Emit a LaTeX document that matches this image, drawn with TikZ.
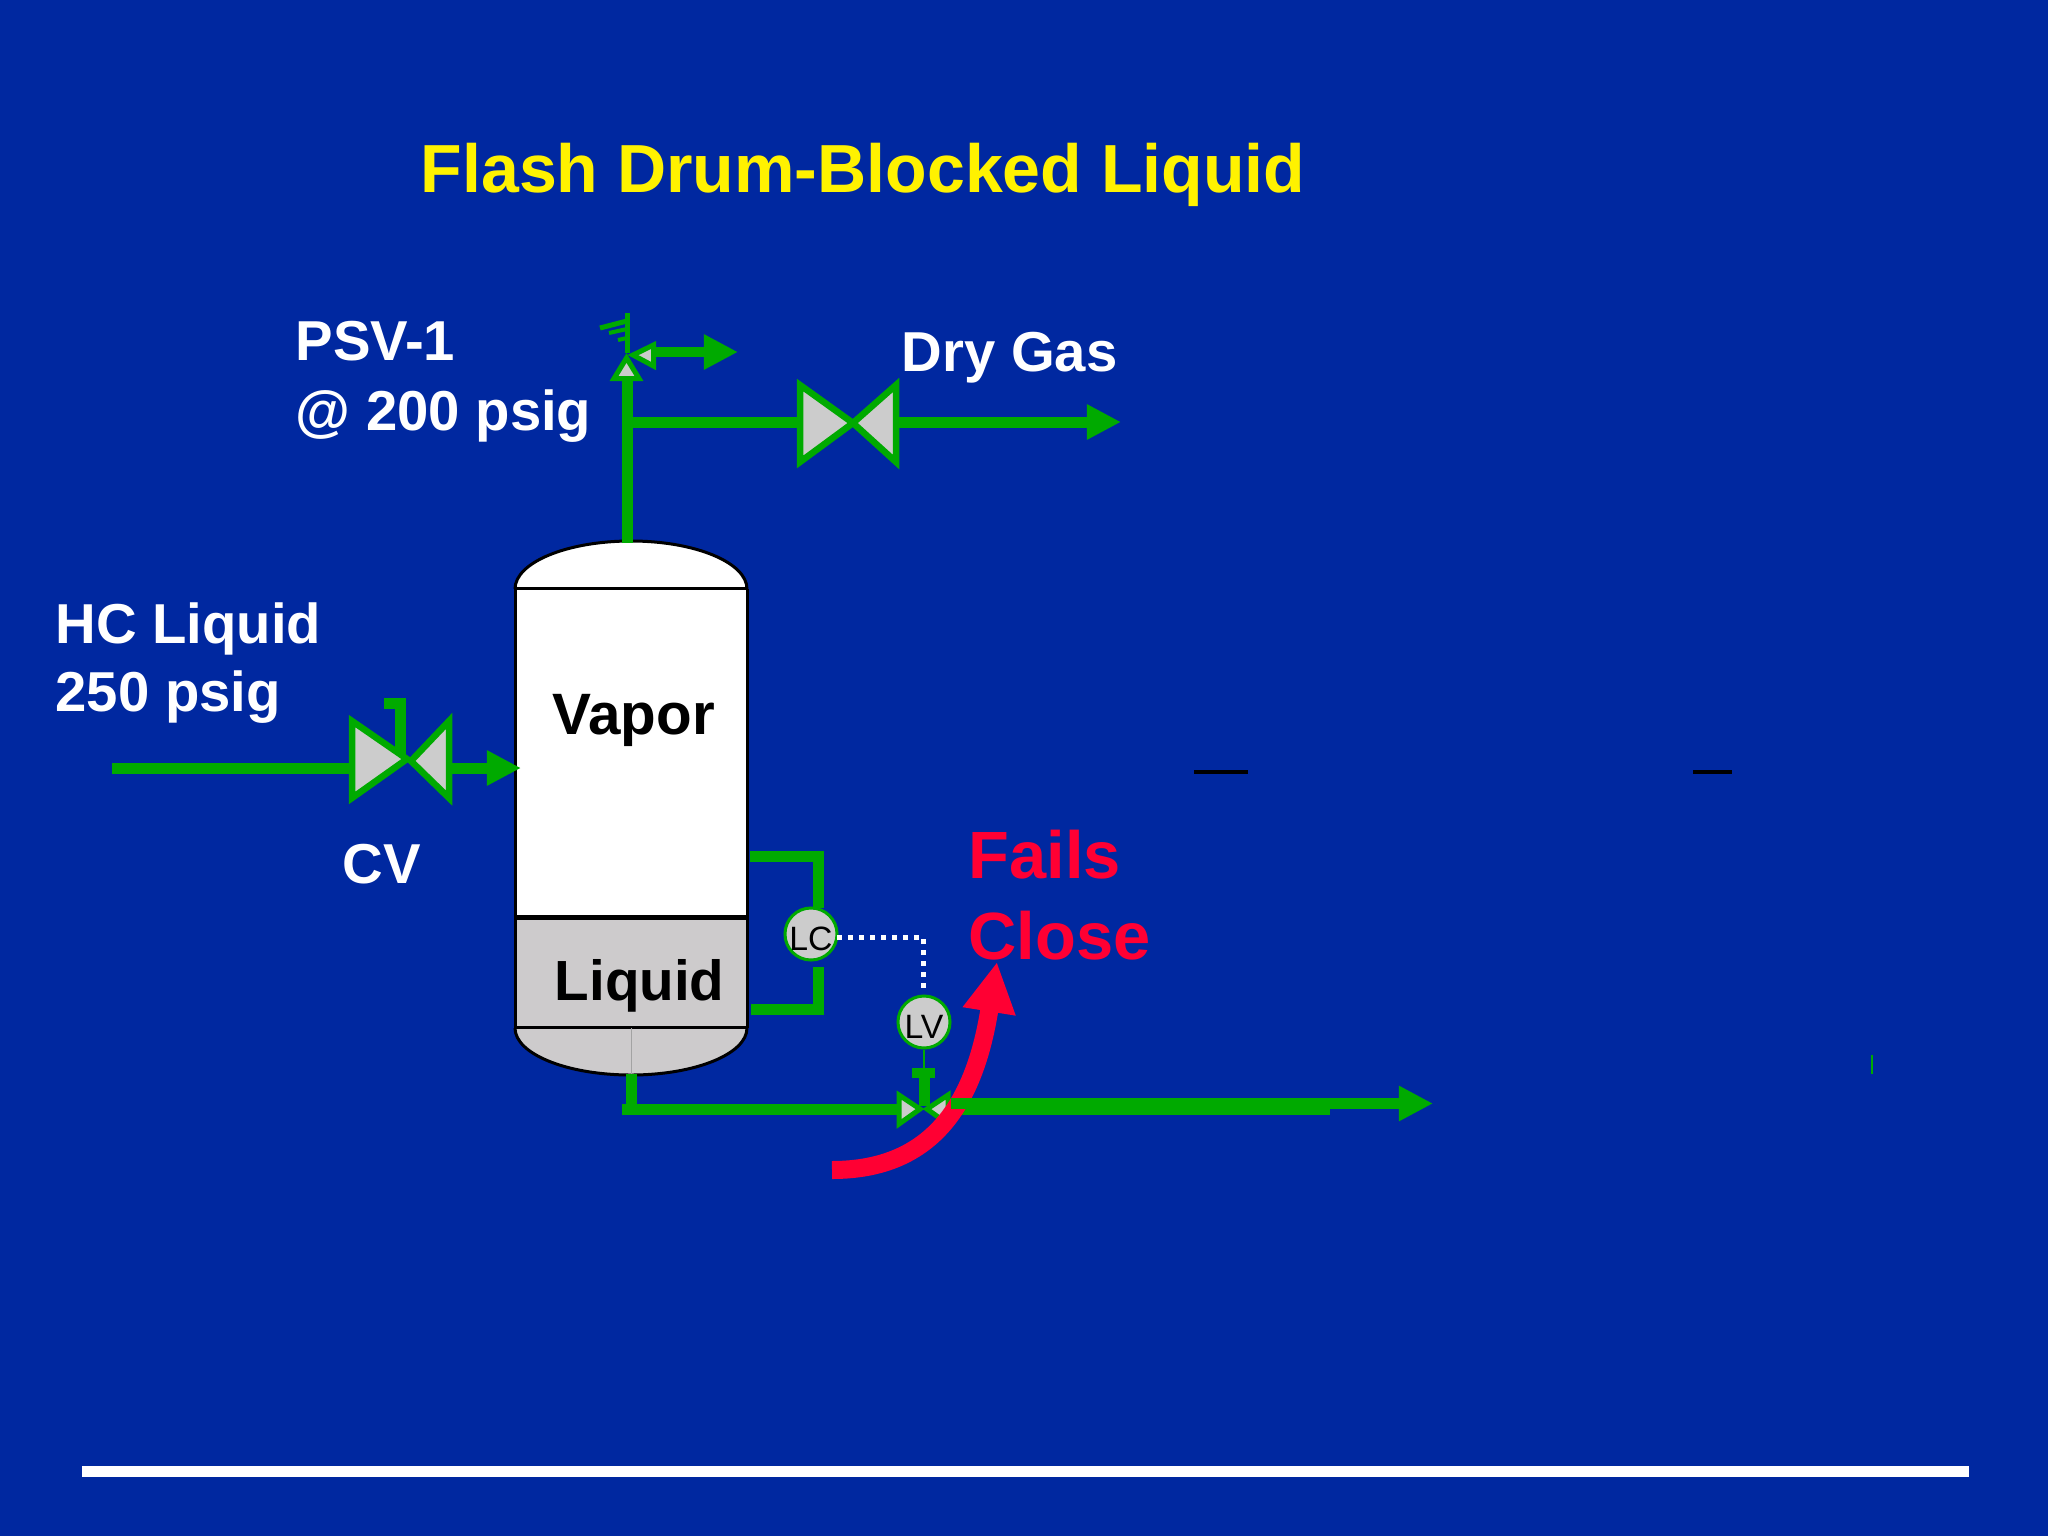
\documentclass[tikz,border=0pt]{standalone}
\usepackage{fontspec}
\setmainfont{Liberation Sans}
\usetikzlibrary{arrows.meta}
\definecolor{slideblue}{RGB}{0,40,160}
\definecolor{pipegreen}{RGB}{0,170,0}
\definecolor{failred}{RGB}{255,0,51}
\definecolor{valvegray}{RGB}{204,204,204}
\definecolor{drumgray}{RGB}{205,203,204}
\newcommand{\insttxt}[1]{\raisebox{-.16cm}[0pt][0pt]{#1}}
\tikzset{
  pipe/.style={draw=pipegreen, line width=.11cm},
  flow/.style={pipe, -{Triangle[length=.34cm,width=.33cm]}},
  valve/.style={draw=pipegreen, fill=valvegray, line width=.065cm, line join=miter},
  inst/.style={circle, draw=pipegreen, fill=valvegray, line width=.03cm, minimum size=.52cm, inner sep=0pt, font=\fontsize{9.6}{11}\selectfont},
  whitetxt/.style={anchor=base west, inner sep=0pt, align=left, text=white, font=\fontsize{16}{19.9}\selectfont\bfseries},
  drumtxt/.style={anchor=base west, inner sep=0pt, text=black},
  failtxt/.style={anchor=base west, inner sep=0pt, align=left, text=failred, font=\fontsize{19}{23}\selectfont\bfseries}
}
\begin{document}
\begin{tikzpicture}[x=.01cm,y=-.01cm]
\fill[slideblue] (0,0) rectangle (2048,1536);
\useasboundingbox (0,0) rectangle (2048,1536);
\fill[white] (82,1466) rectangle (1969,1477);
\node[anchor=base west, inner sep=0pt, text=yellow, font=\fontsize{19.35}{24}\selectfont\bfseries] (title) at (420,192) {Flash Drum-Blocked Liquid};
% drum
\coordinate (drumtop) at (627.5,543);
\coordinate (drumbot) at (631.5,1074);
\fill[white] (515,589) arc[start angle=180,end angle=360,x radius=116,y radius=48] -- (747,917) -- (515,917) -- cycle;
\fill[drumgray] (515,917) rectangle (747,1028);
\fill[drumgray] (515,1028) arc[start angle=180,end angle=0,x radius=116,y radius=47] -- cycle;
\draw[line width=.03cm] (515,589) arc[start angle=180,end angle=360,x radius=116,y radius=48];
\draw[line width=.03cm] (515,1028) arc[start angle=180,end angle=0,x radius=116,y radius=47];
\draw[line width=.03cm] (515,589) -- (515,1028);
\draw[line width=.03cm] (747,589) -- (747,1028);
\draw[line width=.025cm] (515,588.5) -- (747,588.5);
\draw[line width=.025cm] (515,1027.5) -- (747,1027.5);
\draw[line width=.05cm] (515,917) -- (747,917);
\draw[draw=valvegray!80!black, line width=.01cm] (631,1028) -- (631,1074);
\node[drumtxt, font=\fontsize{16.6}{19.9}\selectfont\bfseries] (vapor) at (552,734) {Vapor};
\node[drumtxt, font=\fontsize{16.1}{19.9}\selectfont\bfseries] (liquid) at (554,1000) {Liquid};
% feed
\coordinate (feed) at (112,768);
\coordinate (cvin) at (352,768);
\coordinate (cvout) at (449,768);
\coordinate (drumin) at (521,768);
\draw[pipe] (feed) -- (cvin);
\draw[flow] (cvout) -- (drumin);
\draw[pipe] (400,760) -- (400,703.5) -- (384,703.5);
\draw[valve] (352,721) -- (352,798) -- (407,759) -- cycle;
\draw[valve] (449,721) -- (449,798) -- (411,761) -- cycle;
% top
\coordinate (psvbase) at (627.5,381);
\coordinate (tee) at (627.5,422);
\coordinate (gasin) at (800,422);
\coordinate (gasout) at (896,422);
\coordinate (gasend) at (1121,422);
\draw[pipe] (drumtop) -- (psvbase);
\draw[pipe] (tee) -- (gasin);
\draw[flow] (gasout) -- (gasend);
\draw[valve] (800,385) -- (800,462) -- (853,423) -- cycle;
\draw[valve] (896,385) -- (896,462) -- (853,423) -- cycle;
% relief valve
\coordinate (psvout) at (653,352);
\coordinate (psvend) at (738,352);
\draw[flow, line width=.1cm] (psvout) -- (psvend);
\draw[draw=pipegreen, line width=.05cm] (627,313) -- (627,353);
\draw[draw=pipegreen, line width=.05cm] (600,328) -- (627,321);
\draw[draw=pipegreen, line width=.04cm] (609,333) -- (627,329);
\draw[draw=pipegreen, line width=.04cm] (618,340) -- (627,338);
\draw[valve, line width=.05cm] (614,378.5) -- (639,378.5) -- (626.5,358) -- cycle;
\draw[valve, line width=.05cm] (653.5,345) -- (653.5,366) -- (633,355) -- cycle;
% level loop
\node[inst] (LC) at (811,934) {\insttxt{LC}};
\node[inst] (LV) at (924,1022) {\insttxt{LV}};
\coordinate (tapup) at (750,856);
\coordinate (tapupc) at (818,856);
\coordinate (lcup) at (818,908);
\coordinate (taplo) at (751,1009);
\coordinate (taploc) at (818,1009);
\coordinate (lclo) at (818,967);
\draw[pipe, line join=miter] (tapup) -- (tapupc) -- (lcup);
\draw[pipe, line join=miter] (taplo) -- (taploc) -- (lclo);
\coordinate (sigout) at (837,937);
\coordinate (sigbend) at (923,937);
\coordinate (sigin) at (923,993);
\draw[white, line width=.05cm, dash pattern=on .05cm off .06cm] (sigout) -- (sigbend) -- (sigin);
% bottom
\coordinate (lvin) at (899,1109.5);
\coordinate (lvout) at (948,1109.5);
\coordinate (thickend) at (1330,1109.5);
\draw[pipe] (drumbot) -- (631.5,1109.5) -- (622,1109.5);
\draw[pipe] (622,1109.5) -- (lvin);
\draw[pipe] (lvout) -- (thickend);
\draw[draw=pipegreen, line width=.02cm] (LV.south) -- (924,1068);
\draw[draw=pipegreen, line width=.11cm] (924,1078) -- (924,1106);
\fill[pipegreen] (912,1068) rectangle (935,1078);
\draw[valve, line width=.05cm] (899,1095) -- (899,1124) -- (920,1109) -- cycle;
\draw[valve, line width=.05cm] (948,1095) -- (948,1124) -- (927,1109) -- cycle;
% red arrow
\draw[draw=failred, line width=.18cm, -{Triangle[length=.5cm,width=.5cm]}] (832,1170) .. controls (935,1170) and (975,1100) .. (997,962);
\coordinate (outstart) at (951,1103.5);
\coordinate (outend) at (1433,1103.5);
\draw[flow] (outstart) -- (outend);
\node[failtxt] (fails) at (968,959) {Fails\\Close};
% strays
\draw[black, line width=.035cm] (1194,772) -- (1248,772);
\draw[black, line width=.035cm] (1693,772) -- (1732,772);
\draw[draw=pipegreen, line width=.02cm] (1872,1055) -- (1872,1074);
% labels
\node[whitetxt] (psvlab) at (295,430) {PSV-1\\@ 200 psig};
\node[whitetxt] (gaslab) at (901,371) {Dry Gas};
\node[whitetxt] (hclab) at (55,711) {HC Liquid\\[-.6pt]250 psig};
\node[whitetxt] (cvlab) at (342,883) {CV};
\end{tikzpicture}
\end{document}
